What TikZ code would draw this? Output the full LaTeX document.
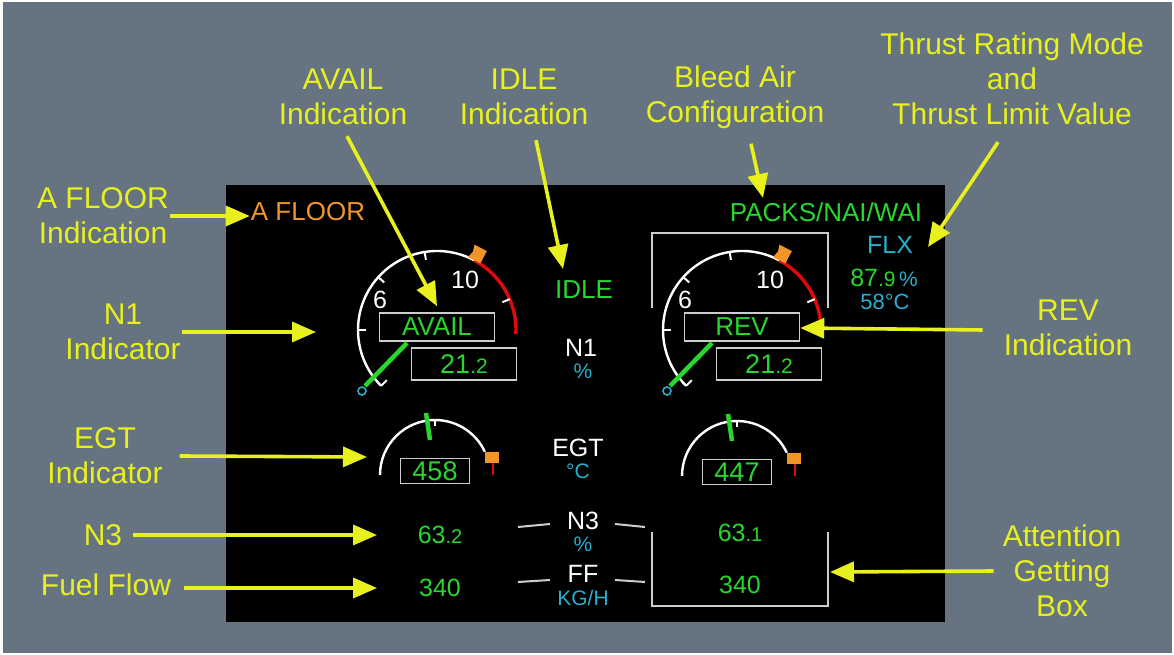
\documentclass[tikz,border=0pt]{standalone}
\usepackage{fontspec}
\setmainfont{Liberation Sans}
\usetikzlibrary{arrows.meta,positioning}
\definecolor{bgray}{RGB}{101,116,128}
\definecolor{callout}{RGB}{232,240,30}
\definecolor{ecamgreen}{RGB}{40,215,45}
\definecolor{ecamcyan}{RGB}{40,175,205}
\definecolor{ecamamber}{RGB}{240,150,40}
\definecolor{ecamred}{RGB}{225,10,10}
\definecolor{ecamline}{RGB}{205,205,205}
\newcommand{\fs}[1]{\fontsize{#1}{#1}\selectfont}
\tikzset{
  calllabel/.style={text=callout,align=center,font=\fontsize{30}{35}\selectfont},
  callarrow/.style={callout,line width=3.6pt,-{Triangle[length=24pt,width=20pt]}},
  dialarc/.style={white,line width=2.4pt},
  redarc/.style={ecamred,line width=3.4pt},
  dialtick/.style={white,line width=2pt},
  needle/.style={ecamgreen,line width=4.5pt},
  dialnum/.style={text=white,font=\fs{25}},
  modebox/.style={draw=ecamline,line width=1.5pt,text=ecamgreen,font=\fs{26},
    minimum width=115pt,minimum height=28pt,inner sep=0pt},
  valbox/.style={draw=ecamline,line width=1.5pt,text=ecamgreen,font=\fs{27},
    minimum width=105pt,minimum height=32pt,inner sep=0pt},
  bracket/.style={ecamline,line width=2pt},
  paneltext/.style={font=\fs{26}},
  unit/.style={text=ecamcyan,font=\fs{21}}
}
\newcommand{\nonedial}[4]{%
  \begin{scope}[shift={(#2,#3)}]
    \draw[dialarc] (225:79) arc[start angle=225,end angle=62,radius=79];
    \draw[redarc] (62:79) arc[start angle=62,end angle=-3,radius=79];
    \foreach \a in {225,180,138,99,23} {
      \draw[dialtick] (\a:79) -- (\a:71);
    }
    \fill[ecamamber,rotate=62] (79,-7) -- (93,-7) -- (93,7) -- (86,5) -- (79,7) -- cycle;
    \node[dialnum] at (-57,30) {6};
    \node[dialnum] at (28,50) {10};
    \node[modebox] (#1mode) at (0,3) {#4};
    \node[valbox] (#1val) at (27,-34) {21\fs{21}.2};
    \draw[needle] (-30,-13) -- (-72,-56);
    \draw[ecamcyan,line width=1.6pt] (-75,-61) circle (4);
  \end{scope}
}
\newcommand{\egtdial}[4]{%
  \begin{scope}[shift={(#2,#3)}]
    \draw[dialarc] (180:55) arc[start angle=180,end angle=25,radius=55];
    \draw[dialtick] (90:55) -- (90:49);
    \draw[ecamred,line width=2.5pt] (58,12) -- (58,0);
    \fill[ecamamber] (50,12) rectangle (64,23);
    \draw[needle] (-9,62) -- (-5,35);
    \node[valbox,minimum width=69pt,minimum height=25pt] (#1val) at (0,4) {#4};
  \end{scope}
}

\begin{document}
\begin{tikzpicture}[x=1pt,y=1pt,every node/.style={inner sep=1pt}]
  \useasboundingbox (0,0) rectangle (1174,655);
  \fill[white] (0,0) rectangle (1174,655);
  \fill[bgray] (3,2) rectangle (1172,653);
  \fill[black] (226,33) rectangle (945,470);

  \nonedial{nl}{437}{325}{AVAIL}
  \nonedial{nr}{742}{325}{REV}
  \egtdial{el}{435}{180}{458}
  \egtdial{er}{737}{179}{447}

  \node[paneltext,text=ecamamber] (afloor) at (308,443) {A FLOOR};
  \node[paneltext,text=ecamgreen] (packs) at (826,443) {PACKS/NAI/WAI};
  \node[paneltext,text=ecamgreen] (idle) at (584,365) {IDLE};
  \node[text=ecamcyan,font=\fs{25}] (flx) at (890,410) {FLX};
  \node[text=ecamgreen,font=\fs{25}] (thrval) at (884,377) {87\fs{21}.9\,\textcolor{ecamcyan}{\%}};
  \node[unit,font=\fs{22}] (thrtemp) at (885,353) {58°C};

  \node[text=white,font=\fs{25}] (n1) at (581,307) {N1};
  \node[unit] (n1unit) at (583,284) {\%};
  \node[text=white,font=\fs{25}] (egt) at (578,207) {EGT};
  \node[unit] (egtunit) at (578,184) {°C};
  \node[text=white,font=\fs{25}] (n3) at (583,134) {N3};
  \node[unit] (n3unit) at (583,111) {\%};
  \node[text=white,font=\fs{25}] (ff) at (583,81) {FF};
  \node[unit] (ffunit) at (583,57) {KG/H};
  \draw[bracket] (518,128) -- (550,131);
  \draw[bracket] (615,131) -- (645,128);
  \draw[bracket] (518,73) -- (550,75);
  \draw[bracket] (615,75) -- (645,73);

  \node[text=ecamgreen,font=\fs{25}] (n3l) at (440,120) {63\fs{20}.2};
  \node[text=ecamgreen,font=\fs{25}] (ffl) at (440,67) {340};
  \node[text=ecamgreen,font=\fs{25}] (n3r) at (740,122) {63\fs{20}.1};
  \node[text=ecamgreen,font=\fs{25}] (ffr) at (740,70) {340};

  \draw[bracket] (652,347) -- (652,422) -- (828,422) -- (828,347);
  \draw[bracket] (652,123) -- (652,49) -- (828,49) -- (828,123);

  \node[calllabel] (thrustlbl) at (1012,576) {Thrust Rating Mode\\and\\Thrust Limit Value};
  \node[calllabel] (availlbl) at (343,558) {AVAIL\\Indication};
  \node[calllabel] (idlelbl) at (524,558) {IDLE\\Indication};
  \node[calllabel] (bleedlbl) at (735,558) {Bleed Air\\Configuration};
  \node[calllabel] (afloorlbl) at (103,439) {A FLOOR\\Indication};
  \node[calllabel] (n1lbl) at (123,323) {N1\\Indicator};
  \node[calllabel] (egtlbl) at (105,199) {EGT\\Indicator};
  \node[calllabel] (n3lbl) at (103,120) {N3};
  \node[calllabel] (fflbl) at (106,70) {Fuel Flow};
  \node[calllabel] (revlbl) at (1068,327) {REV\\Indication};
  \node[calllabel] (attnlbl) at (1062,84) {Attention\\Getting\\Box};

  \coordinate (n1tip) at (316,325);
  \coordinate (egttip) at (367,198);
  \coordinate (n3tip) at (377,120);
  \coordinate (fftip) at (377,67);
  \coordinate (idletip) at (563,386);
  \coordinate (bleedtip) at (763,457);
  \coordinate (thrusttip) at (928,408);
  \coordinate (attntip) at (830,83);

  \draw[callarrow] (afloorlbl.east) -- (afloorlbl.east -| afloor.west);
  \draw[callarrow] (n1lbl.east) -- (n1lbl.east -| n1tip);
  \draw[callarrow] ([xshift=16pt]egtlbl.east) -- (egttip);
  \draw[callarrow] ([xshift=10pt]n3lbl.east) -- (n3tip);
  \draw[callarrow] ([xshift=12pt,yshift=-3pt]fflbl.east) -- (fftip);
  \draw[callarrow] ([xshift=4pt,yshift=-10pt]availlbl.south) -- ([yshift=6pt]nlmode.north);
  \draw[callarrow] ([xshift=12pt,yshift=-14pt]idlelbl.south) -- (idletip);
  \draw[callarrow] ([xshift=16pt,yshift=-14pt]bleedlbl.south) -- (bleedtip);
  \draw[callarrow] ([xshift=-14pt,yshift=-16pt]thrustlbl.south) -- (thrusttip);
  \draw[callarrow] ([xshift=-20pt,yshift=-2pt]revlbl.west) -- (revlbl.west -| nrmode.east);
  \draw[callarrow] ([xshift=-8pt]attnlbl.west) -- (attntip);
\end{tikzpicture}
\end{document}
